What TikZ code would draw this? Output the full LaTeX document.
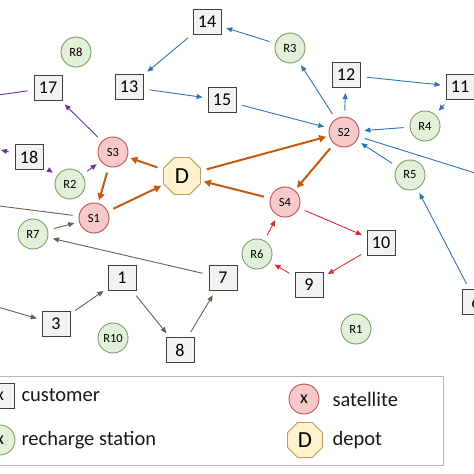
\documentclass[tikz,border=0pt]{standalone}
\usepackage{fontspec}
\setmainfont{Carlito}
\usetikzlibrary{arrows.meta,shapes.geometric}
\definecolor{eblue}{HTML}{2E75B6}
\definecolor{epurple}{HTML}{7030A0}
\definecolor{eorange}{HTML}{C55A11}
\definecolor{egray}{HTML}{5A6650}
\definecolor{ered}{HTML}{E02B36}
\definecolor{boxfill}{HTML}{F2F2F2}
\definecolor{boxdraw}{HTML}{404040}
\definecolor{grfill}{HTML}{E2F0D9}
\definecolor{grdraw}{HTML}{7C9A68}
\definecolor{rdfill}{HTML}{F6C9CB}
\definecolor{rddraw}{HTML}{C0504D}
\definecolor{dfill}{HTML}{FFF2CC}
\definecolor{ddraw}{HTML}{B8A060}
\definecolor{legdraw}{HTML}{AEB8C4}
\tikzset{
  cust/.style={draw=boxdraw,fill=boxfill,line width=0.9pt,minimum width=28pt,minimum height=25pt,inner sep=1pt,font=\fontsize{18}{20}\selectfont},
  rst/.style={circle,draw=grdraw,fill=grfill,line width=0.9pt,minimum size=30pt,inner sep=0pt,font=\fontsize{12.5}{14}\selectfont},
  sat/.style={circle,draw=rddraw,fill=rdfill,line width=0.9pt,minimum size=30pt,inner sep=0pt,font=\fontsize{12.5}{14}\selectfont},
  dep/.style={regular polygon,regular polygon sides=8,draw=ddraw,fill=dfill,line width=0.9pt,minimum size=40pt,inner sep=0pt,font=\fontsize{23}{25}\selectfont},
  edge/.style={line width=0.9pt,-{Triangle[length=6pt,width=5pt]},shorten >=5pt,shorten <=6pt},
  bl/.style={edge,eblue},
  pu/.style={edge,epurple},
  gr/.style={edge,egray},
  rd/.style={edge,ered},
  orr/.style={eorange,line width=2pt,-{Triangle[length=7pt,width=7pt]},shorten >=3pt,shorten <=6pt},
  legtext/.style={anchor=west,font=\fontsize{20.5}{22}\selectfont,text=black!90},
}
\begin{document}
\begin{tikzpicture}[x=1pt,y=-1pt]
\useasboundingbox (0,0) rectangle (474,474);
\clip (0,0) rectangle (474,474);
% nodes
\node[cust] (b14) at (207,22) {14};
\node[rst]  (R8)  at (76,52) {R8};
\node[cust] (b17) at (48,88) {17};
\node[cust] (b13) at (129,87) {13};
\node[cust] (b15) at (222,100) {15};
\node[cust] (b18) at (29,157) {18};
\node[sat]  (S3)  at (113,152) {S3};
\node[rst]  (R2)  at (70,184) {R2};
\node[dep]  (D)   at (182,176) {D};
\node[sat]  (S1)  at (94,218) {S1};
\node[rst]  (R7)  at (33,234) {R7};
\node[rst]  (R3)  at (290,48) {R3};
\node[cust] (b12) at (346,75) {12};
\node[cust] (b11) at (460,87) {11};
\node[rst]  (R4)  at (425,126) {R4};
\node[sat]  (S2)  at (344,132) {S2};
\node[rst]  (R5)  at (410,175) {R5};
\node[sat]  (S4)  at (285,202) {S4};
\node[cust] (b10) at (381,243) {10};
\node[cust] (b9)  at (309,285) {9};
\node[rst]  (R6)  at (257,254) {R6};
\node[rst]  (R1)  at (356,329) {R1};
\node[cust] (b6)  at (476,302) {6};
\node[cust] (b7)  at (223,278) {7};
\node[cust] (b1)  at (122,278) {1};
\node[cust] (b3)  at (56,324) {3};
\node[rst]  (R10) at (113,338) {R10};
\node[cust] (b8)  at (180,350) {8};
% off-picture ends
\coordinate (xr)  at (520,187);
\coordinate (x17) at (-30,99);
\coordinate (x18) at (1,150);
\coordinate (xs1) at (-40,201);
\coordinate (x3)  at (-40,296);
% blue route
\draw[bl] (R3) -- (b14);
\draw[bl] (b14) -- (b13);
\draw[bl] (b13) -- (b15);
\draw[bl] (b15) -- (S2);
\draw[bl] (S2) -- (R3);
\draw[bl] (S2) -- (b12);
\draw[bl] (b12) -- (b11);
\draw[bl] (b11) -- (R4);
\draw[bl] (R4) -- (S2);
\draw[bl] (S2) -- (xr);
\draw[bl] (b6) -- (R5);
\draw[bl] (R5) -- (S2);
% purple route
\draw[pu] (S3) -- (b17);
\draw[pu] (b17) -- (x17);
\draw[pu,shorten >=0pt] (b18) -- (x18);
\draw[pu] (b18) -- (R2);
\draw[pu] (R2) -- (S3);
% orange
\draw[orr] (D) -- (S3);
\draw[orr] (S3) -- (S1);
\draw[orr] (S1) -- (D);
\draw[orr] (D) -- (S2);
\draw[orr] (S2) -- (S4);
\draw[orr] (S4) -- (D);
% gray route
\draw[gr] (S1) -- (xs1);
\draw[gr] (R7) -- (S1);
\draw[gr] (b7) -- (R7);
\draw[gr] (b8) -- (b7);
\draw[gr] (b1) -- (b8);
\draw[gr] (b3) -- (b1);
\draw[gr] (x3) -- (b3);
% red route
\draw[rd] (S4) -- (b10);
\draw[rd] (b10) -- (b9);
\draw[rd] (b9) -- (R6);
\draw[rd] (R6) -- (S4);
% legend
\node[draw=legdraw,line width=0.9pt,minimum width=453pt,minimum height=89pt,inner sep=0pt] (leg) at (216.5,420.5) {};
\node[cust] (lc) at (0,396) {x};
\node[rst,font=\fontsize{18}{20}\selectfont] (lr) at (0,440) {x};
\node[sat,font=\fontsize{18}{20}\selectfont] (ls) at (304,399) {x};
\node[dep,minimum size=38pt] (ld) at (305,440) {D};
\node[legtext] (tc) at (18,395) {customer};
\node[legtext] (tr) at (18,440) {recharge station};
\node[legtext] (ts) at (329,399) {satellite};
\node[legtext] (td) at (329,440) {depot};
\end{tikzpicture}
\end{document}
